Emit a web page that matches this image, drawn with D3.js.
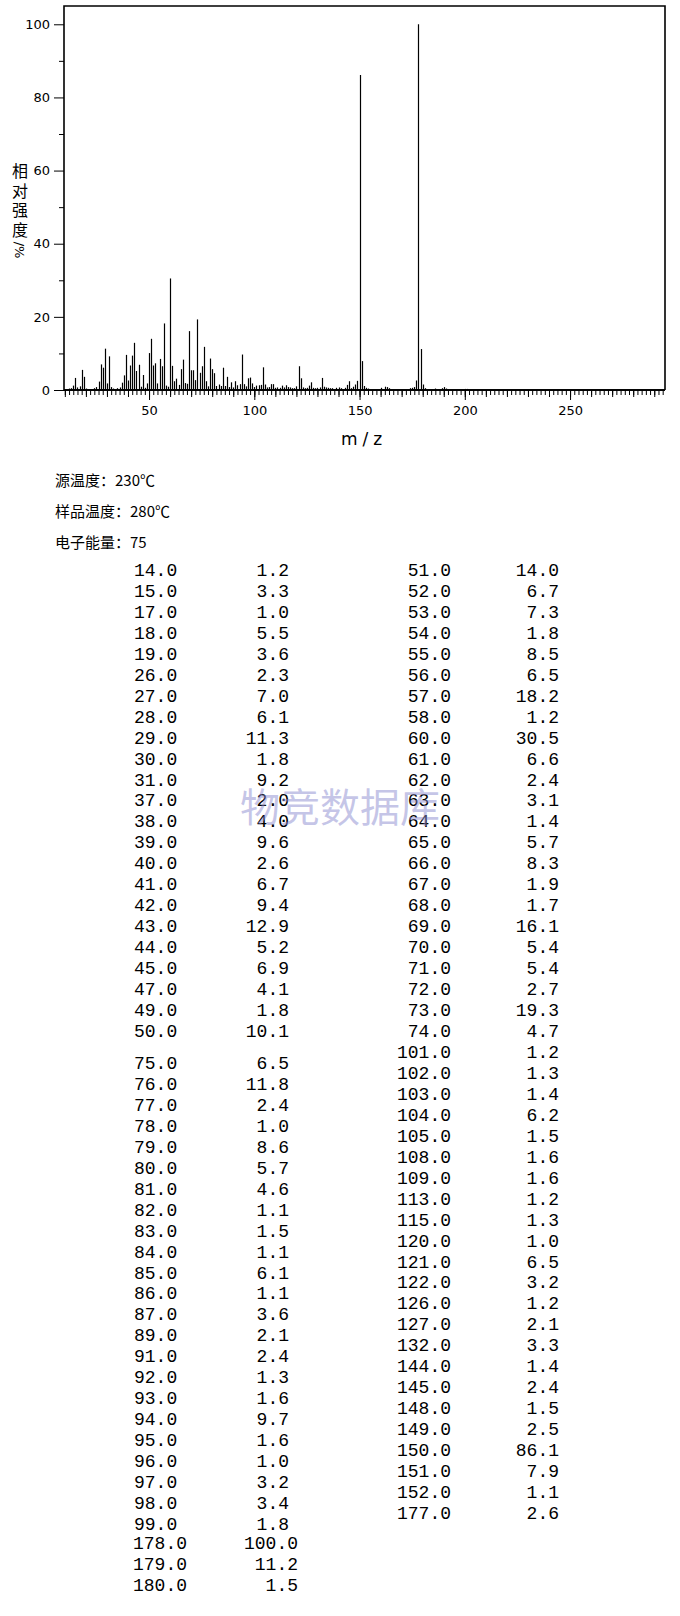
<!DOCTYPE html>
<html><head><meta charset="utf-8">
<script src="https://cdn.jsdelivr.net/npm/d3@7"></script>
<style>body{margin:0;background:#fff}svg{display:block}</style>
</head><body>
<svg id="c" width="680" height="1616"></svg>
<script>
// ---- data (from the listing) ----
const block1Left = [[14,1.2],[15,3.3],[17,1.0],[18,5.5],[19,3.6],[26,2.3],[27,7.0],[28,6.1],[29,11.3],[30,1.8],[31,9.2],[37,2.0],[38,4.0],[39,9.6],[40,2.6],[41,6.7],[42,9.4],[43,12.9],[44,5.2],[45,6.9],[47,4.1],[49,1.8],[50,10.1]];
const block1Right = [[51,14.0],[52,6.7],[53,7.3],[54,1.8],[55,8.5],[56,6.5],[57,18.2],[58,1.2],[60,30.5],[61,6.6],[62,2.4],[63,3.1],[64,1.4],[65,5.7],[66,8.3],[67,1.9],[68,1.7],[69,16.1],[70,5.4],[71,5.4],[72,2.7],[73,19.3],[74,4.7]];
const block2Left = [[75,6.5],[76,11.8],[77,2.4],[78,1.0],[79,8.6],[80,5.7],[81,4.6],[82,1.1],[83,1.5],[84,1.1],[85,6.1],[86,1.1],[87,3.6],[89,2.1],[91,2.4],[92,1.3],[93,1.6],[94,9.7],[95,1.6],[96,1.0],[97,3.2],[98,3.4],[99,1.8]];
const block2Right = [[101,1.2],[102,1.3],[103,1.4],[104,6.2],[105,1.5],[108,1.6],[109,1.6],[113,1.2],[115,1.3],[120,1.0],[121,6.5],[122,3.2],[126,1.2],[127,2.1],[132,3.3],[144,1.4],[145,2.4],[148,1.5],[149,2.5],[150,86.1],[151,7.9],[152,1.1],[177,2.6]];
const tailRows = [[178,100.0],[179,11.2],[180,1.5]];
// small peaks under 1 % seen in the plot only (estimated)
const minorPeaks = [[12,0.4],[13,0.5],[16,0.7],[20,0.4],[24,0.5],[25,0.8],[32,0.8],[33,0.4],[35,0.5],[36,0.7],[46,0.9],[48,0.6],[59,0.9],[88,0.8],[90,0.7],[100,0.8],[106,0.7],[107,0.8],[110,0.6],[111,0.7],[112,0.6],[114,0.7],[116,0.8],[117,0.7],[118,0.5],[119,0.5],[123,0.7],[124,0.5],[125,0.6],[128,0.6],[129,0.5],[130,0.6],[131,0.7],[133,0.9],[134,0.7],[135,0.6],[136,0.5],[137,0.5],[139,0.6],[140,0.7],[141,0.5],[143,0.6],[146,0.5],[147,0.9],[153,0.6],[154,0.4],[160,0.6],[162,0.9],[163,0.8],[164,0.5],[174,0.5],[175,0.6],[176,0.8],[181,0.5],[186,0.4],[189,0.5],[190,0.8],[191,0.4],[200,0.3],[201,0.3]];
const infoLines = ["源温度：230℃","样品温度：280℃","电子能量：75"];
const yLabelChars = ["相","对","强","度"];
const yTicks = [0,20,40,60,80,100];
const xTicks = [50,100,150,200,250];
const watermark = "物竞数据库";

const svg = d3.select("#c");
svg.append("rect").attr("width",680).attr("height",1616).attr("fill","#fff");

const L=64, R=665, T=6, B=390;
const x = d3.scaleLinear().domain([9.6,295.1]).range([L,R]);
const y = d3.scaleLinear().domain([0,105]).range([B,T]);

const peaks = [].concat(block1Left,block1Right,block2Left,block2Right,tailRows,minorPeaks);

// frame
svg.append("path").attr("d",`M${L},${B}V${T}H${R}V${B}`).attr("fill","none").attr("stroke","#000").attr("stroke-width",1.6);

// peaks
svg.append("g").selectAll("line").data(peaks).join("line")
  .attr("x1",d=>Math.round(x(d[0]))+0.5).attr("x2",d=>Math.round(x(d[0]))+0.5)
  .attr("y1",B).attr("y2",d=>y(d[1])).attr("stroke","#000").attr("stroke-width",1.2);

// x axis
const xg = svg.append("g").attr("transform",`translate(0,${B})`);
const xAxisMinor = d3.axisBottom(x).tickValues(d3.range(10,295,2)).tickSize(5).tickFormat("");
const xAxisMid = d3.axisBottom(x).tickValues(d3.range(10,295,10)).tickSize(7).tickFormat("");
const xAxisMajor = d3.axisBottom(x).tickValues(xTicks).tickSize(10).tickPadding(6);
[xAxisMinor,xAxisMid,xAxisMajor].forEach(a=>{
  const g = xg.append("g").call(a);
  g.select(".domain").attr("stroke","#000").attr("stroke-width",1.6).attr("d",`M${L},0H${R}`);
  g.selectAll(".tick line").attr("stroke","#000").attr("stroke-width",1);
  g.selectAll("text").attr("font-family","DejaVu Sans").attr("font-size",13).attr("fill","#000");
});

// y axis
const yg = svg.append("g").attr("transform",`translate(${L},0)`);
const yMinor = d3.axisLeft(y).tickValues([10,30,50,70,90]).tickSize(5).tickFormat("");
const yMajor = d3.axisLeft(y).tickValues(yTicks).tickSize(10).tickPadding(4);
[yMinor,yMajor].forEach(a=>{
  const g = yg.append("g").call(a);
  g.select(".domain").remove();
  g.selectAll(".tick line").attr("stroke","#000").attr("stroke-width",1);
  g.selectAll("text").attr("font-family","DejaVu Sans").attr("font-size",13).attr("fill","#000");
});

// axis titles
svg.append("text").attr("x",364).attr("y",445).attr("text-anchor","middle")
  .attr("font-family","DejaVu Sans").attr("font-size",17).attr("letter-spacing",5).text("m/z");
svg.append("g").selectAll("text").data(yLabelChars).join("text")
  .attr("x",20).attr("y",(d,i)=>177+i*19.5).attr("text-anchor","middle")
  .attr("font-family","Noto Sans CJK SC").attr("font-size",16).text(d=>d);
svg.append("text").attr("transform","translate(15,250) rotate(90)").attr("text-anchor","middle")
  .attr("font-family","DejaVu Sans").attr("font-size",13).text("/%");

// info lines
svg.append("g").selectAll("text").data(infoLines).join("text")
  .attr("x",55).attr("y",(d,i)=>486+i*31)
  .attr("font-family","Noto Sans CJK SC").attr("font-size",15).text(d=>d);

// listing
const rowH = 20.95;
const fmtMz = d=>d.toFixed(1), fmtI = d=>d.toFixed(1);
const tbl = svg.append("g").attr("font-family","Liberation Mono").attr("font-size",18).attr("fill","#000");
function column(data, y0, mzX, mzAnchor, iX){
  const g = tbl.append("g");
  g.selectAll(".m").data(data).join("text").attr("class","m")
    .attr("x",mzX).attr("y",(d,i)=>y0+i*rowH).attr("text-anchor",mzAnchor).text(d=>fmtMz(d[0]));
  g.selectAll(".v").data(data).join("text").attr("class","v")
    .attr("x",iX).attr("y",(d,i)=>y0+i*rowH).attr("text-anchor","end").text(d=>fmtI(d[1]));
}
column(block1Left, 576, 134, "start", 289);
column(block1Right, 576, 451, "end", 559);
column(block2Left, 1069, 134, "start", 289);
column(block2Right, 1058, 451, "end", 559);
column(tailRows, 1549, 133, "start", 298);

// watermark
svg.append("text").attr("x",340).attr("y",822).attr("text-anchor","middle")
  .attr("font-family","Noto Sans CJK SC").attr("font-size",40).attr("fill","#8c8cd0").attr("fill-opacity",0.5)
  .text(watermark);
</script>
</body></html>
